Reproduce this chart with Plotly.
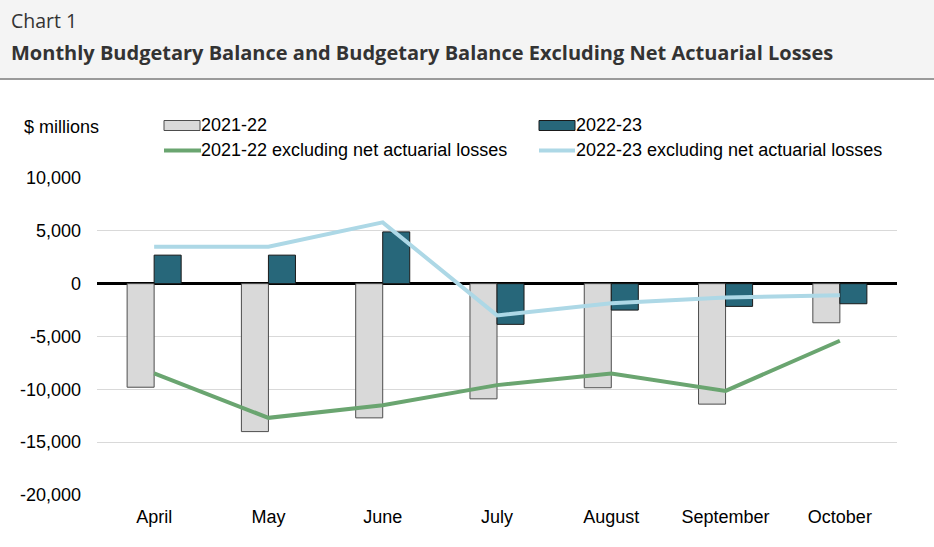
import plotly.graph_objects as go

months = ["April", "May", "June", "July", "August", "September", "October"]
bal_2122 = [-9800, -14000, -12700, -10900, -9850, -11400, -3700]
bal_2223 = [2700, 2700, 4900, -3850, -2500, -2150, -1900]
excl_2122 = [-8500, -12700, -11500, -9600, -8500, -10150, -5400]
excl_2223 = [3500, 3500, 5800, -3000, -1850, -1300, -1100]
y_tickvals = [10000, 5000, 0, -5000, -10000, -15000, -20000]
y_ticktext = ["10,000", "5,000", "0", "-5,000", "-10,000", "-15,000", "-20,000"]

W, H = 934, 547
L, R, T, B = 97, 897, 178, 495


def px(x):
    return (x - L) / (R - L)


def py(y):
    return (B - y) / (B - T)


GRAY = "#d9d9d9"
TEAL = "#27677a"
GREEN = "#6aa570"
LBLUE = "#add8e6"
FONT = "Arial, Liberation Sans, sans-serif"
FS = 18

fig = go.Figure()
fig.add_trace(go.Bar(x=months, y=bal_2122, name="2021-22",
                     marker=dict(color=GRAY, line=dict(color="#4d4d4d", width=1))))
fig.add_trace(go.Bar(x=months, y=bal_2223, name="2022-23",
                     marker=dict(color=TEAL, line=dict(color="#1a1a1a", width=1))))
fig.add_trace(go.Scatter(x=months, y=excl_2122, mode="lines",
                         name="2021-22 excluding net actuarial losses",
                         line=dict(color=GREEN, width=4)))
fig.add_trace(go.Scatter(x=months, y=excl_2223, mode="lines",
                         name="2022-23 excluding net actuarial losses",
                         line=dict(color=LBLUE, width=4)))

shapes = [
    dict(type="rect", xref="paper", yref="paper", x0=px(0), x1=px(W), y0=py(0), y1=py(79),
         fillcolor="#f4f4f4", line=dict(width=0), layer="below"),
    dict(type="line", xref="paper", yref="paper", x0=px(0), x1=px(W), y0=py(79), y1=py(79),
         line=dict(color="#9a9a9a", width=2)),
    # legend swatches
    dict(type="rect", xref="paper", yref="paper", x0=px(164), x1=px(200), y0=py(120.5), y1=py(130.5),
         fillcolor=GRAY, line=dict(color="#4d4d4d", width=1)),
    dict(type="rect", xref="paper", yref="paper", x0=px(539), x1=px(575), y0=py(120.5), y1=py(130.5),
         fillcolor=TEAL, line=dict(color="#1a1a1a", width=1)),
    dict(type="line", xref="paper", yref="paper", x0=px(164), x1=px(201), y0=py(150.5), y1=py(150.5),
         line=dict(color=GREEN, width=4)),
    dict(type="line", xref="paper", yref="paper", x0=px(539), x1=px(575), y0=py(150.5), y1=py(150.5),
         line=dict(color=LBLUE, width=4)),
]

ann = []


def text(x, y, s, size, family=FONT, color="#000000", xanchor="left"):
    ann.append(dict(xref="paper", yref="paper", x=px(x), y=py(y), text=s, showarrow=False,
                    xanchor=xanchor, yanchor="middle", font=dict(size=size, family=family, color=color)))


text(9, 20, "Chart 1", 19.5, family="Open Sans", color="#333333")
text(9, 52, "<b>Monthly Budgetary Balance and Budgetary Balance Excluding Net Actuarial Losses</b>",
     20, family="Open Sans", color="#333333")
text(22, 127, "$ millions", FS)
text(199, 125, "2021-22", FS)
text(574, 125, "2022-23", FS)
text(199, 150, "2021-22 excluding net actuarial losses", FS)
text(574, 150, "2022-23 excluding net actuarial losses", FS)

fig.update_layout(
    width=W, height=H,
    margin=dict(l=L, r=W - R, t=T, b=H - B),
    paper_bgcolor="white", plot_bgcolor="white",
    barmode="group", bargap=0.527, bargroupgap=0,
    showlegend=False,
    shapes=shapes, annotations=ann,
    font=dict(family=FONT, size=FS, color="#000000"),
)
fig.update_xaxes(showgrid=False, showline=False, ticks="", tickfont=dict(size=FS),
                 ticklabelstandoff=9)
fig.update_yaxes(range=[-20000, 10000], tickvals=y_tickvals, ticktext=y_ticktext,
                 showgrid=True, gridcolor="#d9d9d9", gridwidth=1,
                 zeroline=True, zerolinecolor="#000000", zerolinewidth=3,
                 showline=False, ticks="", tickfont=dict(size=FS), ticklabelstandoff=15)

fig.write_html("out.html")
